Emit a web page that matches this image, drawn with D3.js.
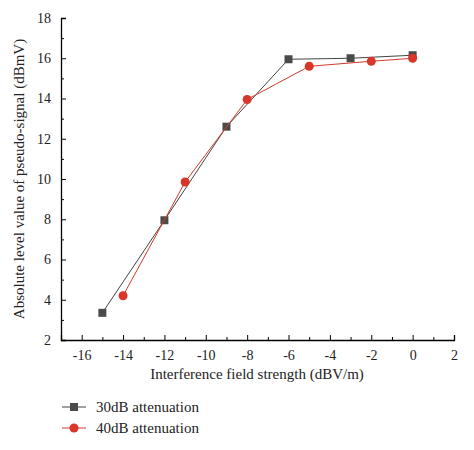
<!DOCTYPE html>
<html><head><meta charset="utf-8">
<script src="https://cdn.jsdelivr.net/npm/d3@7"></script>
<style>
body{margin:0;background:#fff;}
text{font-family:"Liberation Serif","DejaVu Serif",serif;fill:#222;}
</style></head>
<body><div id="chart"></div>
<script>
const xs30 = [-15, -12, -9, -6, -3, 0];
const ys30 = [3.35, 7.95, 12.6, 15.95, 16.0, 16.15];
const xs40 = [-14, -11, -8, -5, -2, 0];
const ys40 = [4.2, 9.85, 13.95, 15.6, 15.85, 16.0];
const xTicks = [-16, -14, -12, -10, -8, -6, -4, -2, 0, 2];
const yTicks = [2, 4, 6, 8, 10, 12, 14, 16, 18];

const svg = d3.select("#chart").append("svg").attr("width", 474).attr("height", 450);
const x = d3.scaleLinear().domain([-17, 2]).range([61, 454]);
const y = d3.scaleLinear().domain([2, 18]).range([340, 18]);

// axes with inward ticks
svg.append("g").attr("transform", "translate(0,340)")
  .call(d3.axisBottom(x).tickValues(xTicks).tickSize(-5).tickPadding(10).tickFormat(d => String(d)))
  .call(g => g.select(".domain").attr("stroke-width", 1.3))
  .call(g => g.selectAll("text").attr("font-size", 14));
svg.append("g").attr("transform", "translate(0,340)")
  .call(d3.axisBottom(x).tickValues(d3.range(-17, 2, 2)).tickSize(-3).tickFormat(""))
  .call(g => g.select(".domain").remove());
svg.append("g").attr("transform", "translate(61,0)")
  .call(d3.axisLeft(y).tickValues(yTicks).tickSize(-5).tickPadding(10).tickFormat(d => String(d)))
  .call(g => g.select(".domain").attr("stroke-width", 1.3))
  .call(g => g.selectAll("text").attr("font-size", 14));
svg.append("g").attr("transform", "translate(61,0)")
  .call(d3.axisLeft(y).tickValues(d3.range(3, 18, 2)).tickSize(-3).tickFormat(""))
  .call(g => g.select(".domain").remove());

svg.append("text").attr("x", 257).attr("y", 379).attr("text-anchor", "middle")
  .attr("font-size", 15).text("Interference field strength (dBV/m)");
svg.append("text").attr("transform", "translate(24,179) rotate(-90)").attr("text-anchor", "middle")
  .attr("font-size", 15).text("Absolute level value of pseudo-signal (dBmV)");

const line = d3.line().x(d => x(d[0])).y(d => y(d[1]));
const d30 = xs30.map((v, i) => [v, ys30[i]]);
const d40 = xs40.map((v, i) => [v, ys40[i]]);

svg.append("path").datum(d30).attr("fill", "none").attr("stroke", "#444").attr("stroke-width", 1).attr("d", line);
svg.selectAll(".sq").data(d30).join("rect").attr("class", "sq")
  .attr("x", d => x(d[0]) - 4).attr("y", d => y(d[1]) - 4).attr("width", 8).attr("height", 8).attr("fill", "#4a4a4a");
svg.append("path").datum(d40).attr("fill", "none").attr("stroke", "#d33a2c").attr("stroke-width", 1).attr("d", line);
svg.selectAll(".dot").data(d40).join("circle").attr("class", "dot")
  .attr("cx", d => x(d[0])).attr("cy", d => y(d[1])).attr("r", 4.5).attr("fill", "#d8362a");

// legend
const leg = [["30dB attenuation", "#444", "sq"], ["40dB attenuation", "#d33a2c", "dot"]];
leg.forEach((l, i) => {
  const ly = 407 + i * 21;
  svg.append("line").attr("x1", 62).attr("x2", 86).attr("y1", ly).attr("y2", ly).attr("stroke", l[1]);
  if (l[2] === "sq") svg.append("rect").attr("x", 70).attr("y", ly - 4).attr("width", 8).attr("height", 8).attr("fill", "#4a4a4a");
  else svg.append("circle").attr("cx", 74).attr("cy", ly).attr("r", 4.5).attr("fill", "#d8362a");
  svg.append("text").attr("x", 96).attr("y", ly + 5).attr("font-size", 15).text(l[0]);
});
</script></body></html>
